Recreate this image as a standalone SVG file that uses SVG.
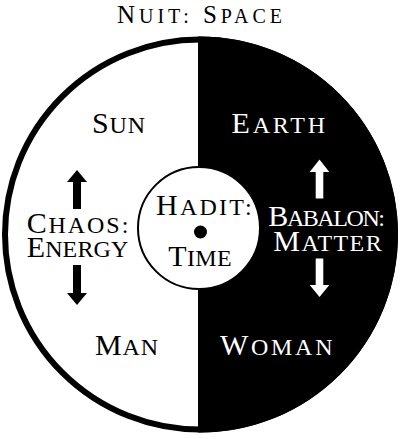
<svg xmlns="http://www.w3.org/2000/svg" width="400" height="439" viewBox="0 0 400 439">
  <defs>
    <clipPath id="rightHalf">
      <rect x="198" y="0" width="210" height="439"/>
    </clipPath>
    <style>
      text { font-family: "Liberation Serif", "Times New Roman", serif; }
      .lbl { font-size: 30px; }
      .sc { font-size: 24px; }
      .ttl { font-size: 25px; }
      .tsc { font-size: 20px; }
      .dark { fill: #000; }
      .light { fill: #fff; }
    </style>
  </defs>
  <rect width="400" height="439" fill="#fff"/>

  <g id="nuit">
    <circle cx="200" cy="234.5" r="195" fill="#fff"/>
    <circle cx="200" cy="234.5" r="198" fill="#000" clip-path="url(#rightHalf)"/>
    <circle cx="200" cy="234.5" r="195" fill="none" stroke="#000" stroke-width="6"/>
    <text class="ttl dark" x="117" y="22.5" textLength="165">N<tspan class="tsc">UIT:</tspan> S<tspan class="tsc">PACE</tspan></text>
  </g>

  <g id="sun">
    <text class="lbl dark" x="92" y="132.7" textLength="53">S<tspan class="sc">UN</tspan></text>
  </g>
  <g id="earth">
    <text class="lbl light" x="231.5" y="132.7" textLength="93.5">E<tspan class="sc">ARTH</tspan></text>
  </g>
  <g id="man">
    <text class="lbl dark" x="95" y="355" textLength="63">M<tspan class="sc">AN</tspan></text>
  </g>
  <g id="woman">
    <text class="lbl light" x="220" y="355" textLength="112.5">W<tspan class="sc">OMAN</tspan></text>
  </g>
  <g id="chaos">
    <text class="lbl dark"><tspan x="26.7" y="233.3" textLength="101.6">C<tspan class="sc">HAOS:</tspan></tspan><tspan x="26.7" y="257.3" textLength="101.6">E<tspan class="sc">NERGY</tspan></tspan></text>
  </g>
  <g id="babalon">
    <text class="lbl light"><tspan x="268.3" y="226" textLength="116.7">B<tspan class="sc">ABALON:</tspan></tspan><tspan x="273.3" y="250.7" textLength="108.4">M<tspan class="sc">ATTER</tspan></tspan></text>
  </g>
  <g id="hadit">
    <circle cx="199" cy="228" r="61" fill="#fff" stroke="#000" stroke-width="2"/>
    <circle cx="200.5" cy="232" r="6.5" fill="#000"/>
    <text class="lbl dark" x="156" y="215" textLength="95.7">H<tspan class="sc">ADIT:</tspan></text>
    <text class="lbl dark" x="168.3" y="266" textLength="63.4">T<tspan class="sc">IME</tspan></text>
  </g>

  <g id="arrows">
    <path class="dark" d="M77,170 L87,182 L81,182 L81,209 L73,209 L73,182 L67,182 Z"/>
    <path class="dark" d="M77,305 L87,293 L81,293 L81,265 L73,265 L73,293 L67,293 Z"/>
    <path class="light" d="M319.5,159.5 L329.3,172 L323.3,172 L323.3,198.5 L315.7,198.5 L315.7,172 L309.7,172 Z"/>
    <path class="light" d="M319.5,297 L329.3,285 L323.3,285 L323.3,258.5 L315.7,258.5 L315.7,285 L309.7,285 Z"/>
  </g>
</svg>
